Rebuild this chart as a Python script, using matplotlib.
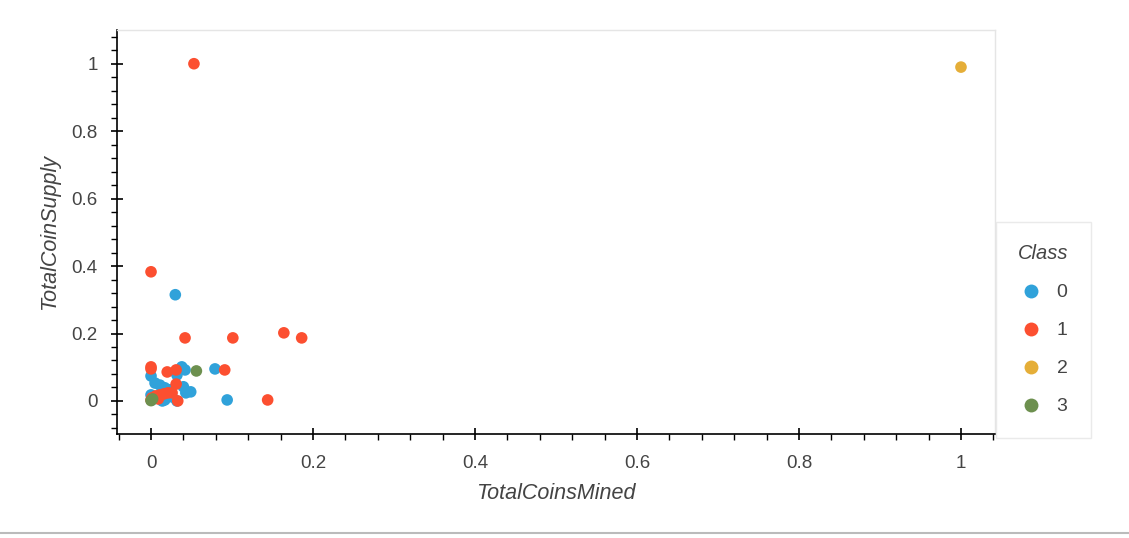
import matplotlib
matplotlib.use("Agg")
import matplotlib.pyplot as plt
from matplotlib.ticker import MultipleLocator, FuncFormatter
from matplotlib.lines import Line2D

# points per class (TotalCoinsMined, TotalCoinSupply)
class0_x = [0.030, 0.000, 0.038, 0.042, 0.079, 0.005, 0.011, 0.032, 0.040, 0.049,
            0.094, 0.000, 0.009, 0.017, 0.026, 0.032, 0.014, 0.023, 0.017, 0.001, 0.043]
class0_y = [0.315, 0.074, 0.101, 0.092, 0.095, 0.053, 0.047, 0.077, 0.042, 0.027,
            0.003, 0.018, 0.012, 0.003, 0.012, 0.000, 0.000, 0.033, 0.039, 0.003, 0.024]

class1_x = [0.053, 0.000, 0.042, 0.101, 0.164, 0.186, 0.000, 0.000, 0.020, 0.031,
            0.091, 0.031, 0.033, 0.144, 0.001, 0.006, 0.011, 0.016, 0.021, 0.026,
            0.009, 0.000]
class1_y = [1.000, 0.383, 0.187, 0.187, 0.202, 0.187, 0.101, 0.095, 0.086, 0.092,
            0.092, 0.050, 0.000, 0.003, 0.009, 0.015, 0.018, 0.021, 0.024, 0.024,
            0.006, 0.003]

class2_x = [1.000]
class2_y = [0.990]

class3_x = [0.056, 0.002, 0.000]
class3_y = [0.089, 0.006, 0.001]

classes = ["0", "1", "2", "3"]
colors = ["#30a2da", "#fc4f30", "#e5ae38", "#6d904f"]

plt.rcParams["font.family"] = ["Liberation Sans", "DejaVu Sans"]

fig = plt.figure(figsize=(11.29, 5.38), dpi=100)
ax = fig.add_axes([117 / 1129, 1 - 434 / 538, (995 - 117) / 1129, (434 - 30) / 538])

series = [(class0_x, class0_y), (class1_x, class1_y), (class2_x, class2_y), (class3_x, class3_y)]
for (xs, ys), color in zip(series, colors):
    ax.scatter(xs, ys, s=70, color=color, edgecolors="none", zorder=3)

ax.set_xlim(-0.042, 1.042)
ax.set_ylim(-0.098, 1.10)

fmt = FuncFormatter(lambda v, p: f"{v:g}")
ax.xaxis.set_major_locator(MultipleLocator(0.2))
ax.xaxis.set_minor_locator(MultipleLocator(0.04))
ax.yaxis.set_major_locator(MultipleLocator(0.2))
ax.yaxis.set_minor_locator(MultipleLocator(0.04))
ax.xaxis.set_major_formatter(fmt)
ax.yaxis.set_major_formatter(fmt)

ax.tick_params(which="major", direction="inout", length=8, width=1.2,
               labelsize=13.5, labelcolor="#444444", color="black")
ax.tick_params(axis="y", which="major", pad=10)
ax.tick_params(axis="x", which="major", pad=11)
ax.tick_params(which="minor", direction="out", length=4, width=1, color="black")

for side in ["left", "bottom"]:
    ax.spines[side].set_color("black")
    ax.spines[side].set_linewidth(1.2)
for side in ["top", "right"]:
    ax.spines[side].set_color("#e5e5e5")
    ax.spines[side].set_linewidth(1)

ax.set_xlabel("TotalCoinsMined", fontsize=15.5, style="italic", color="#444444", labelpad=8)
ax.set_ylabel("TotalCoinSupply", fontsize=15.5, style="italic", color="#444444", labelpad=8)

handles = [Line2D([], [], marker="o", linestyle="none", markersize=10,
                  markerfacecolor=c, markeredgecolor="none") for c in colors]
leg = fig.legend(handles, classes, title="Class", loc="upper left",
                 bbox_to_anchor=(996 / 1129, 1 - 222 / 538), frameon=True,
                 fontsize=14, title_fontsize=14.5, labelspacing=1.05,
                 borderpad=1.15, handlelength=1.2, handletextpad=0.7, borderaxespad=0)
leg.get_title().set_style("italic")
leg.get_title().set_color("#444444")
for t in leg.get_texts():
    t.set_color("#444444")
leg.get_frame().set_edgecolor("#e5e5e5")
leg.get_frame().set_linewidth(1)
leg.get_frame().set_boxstyle("square", pad=0)

fig.add_artist(Line2D([0, 1], [1 - 533 / 538, 1 - 533 / 538],
                      transform=fig.transFigure, color="#bbbbbb", linewidth=1.5))

fig.savefig("out.png", dpi=100)
